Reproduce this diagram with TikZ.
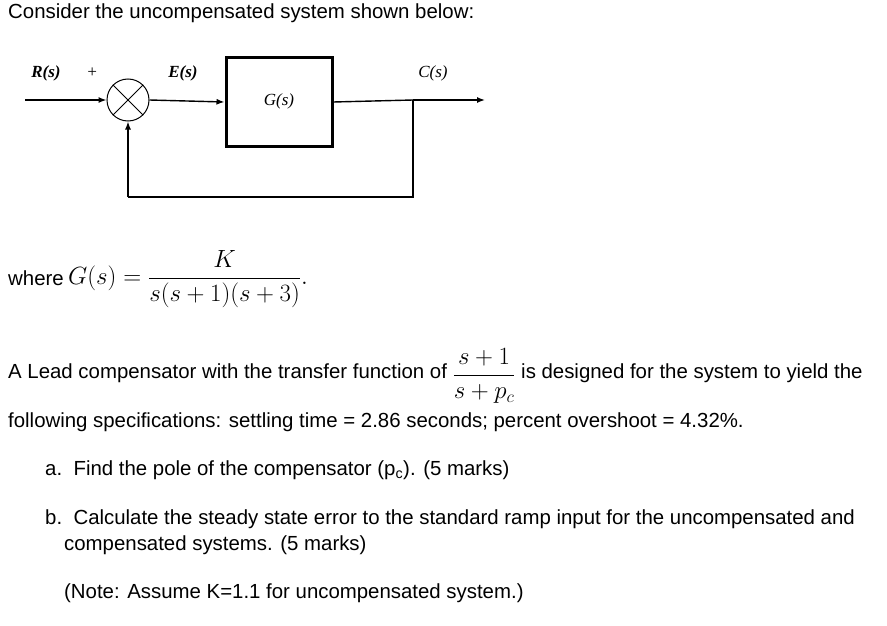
\documentclass[tikz,border=0pt]{standalone}
\usepackage{amsmath}
\usepackage{fontspec}
\setmainfont{Liberation Sans}
\newfontfamily\serifl{Liberation Serif}
\usetikzlibrary{arrows.meta}
\begin{document}
\begin{tikzpicture}[x=1pt,y=-1pt,
  txt/.style={anchor=west,inner sep=0pt,font=\fontsize{20.4}{24}\selectfont},
  lbl/.style={inner sep=0pt,font=\fontsize{17}{20}\selectfont\serifl\itshape},
  sig/.style={line width=1.4pt,-{Latex[length=8pt,width=6pt]}},
  ln/.style={line width=1.4pt}]
\useasboundingbox (0,0) rectangle (887,626);
\node[txt] (t1) at (8,13) {Consider the uncompensated system shown below:};
% block diagram
\coordinate (in) at (25,100);
\node[circle,draw,line width=1pt,minimum size=42pt,inner sep=0pt] (sum) at (128,100) {};
\draw[line width=0.8pt] (sum.north west) -- (sum.south east) (sum.north east) -- (sum.south west);
\node[draw,line width=3pt,minimum width=106pt,minimum height=88pt] (G) at (279,102) {};
\node[lbl] (Gl) at (279,101) {G(s)};
\coordinate (br) at (413,100);
\coordinate (out) at (485,100);
\coordinate (fb) at (413,197);
\coordinate (fb2) at (128,197);
\draw[sig] (in) -- (sum.west);
\draw[sig] (sum.east) -- (G.west);
\draw[ln] (G.east) -- (br);
\draw[sig] (br) -- (out);
\draw[ln] (br) -- (fb) -- (fb2);
\draw[sig] (fb2) -- (sum.south);
\node[lbl] (R) at (46,73) {\textbf{R(s)}};
\node[lbl] (plus) at (92,73) {+};
\node[lbl] (E) at (183,73) {\textbf{E(s)}};
\node[lbl] (C) at (433,73) {C(s)};
% G(s)
\node[txt] (where) at (8,278) {where};
\node[anchor=west,inner sep=0pt,font=\fontsize{34}{38}\selectfont] (Geq) at (68,279)
  {$G(s) = \dfrac{K}{s(s+1)(s+3)}.$};
\node[txt] (lead) at (8,376) {A Lead compensator with the transfer function of \raisebox{-0.3ex}{\fontsize{25}{28}\selectfont$\dfrac{s+1}{s+p_c}$} is designed for the system to yield the};
\node[txt] (spec) at (8,422) {following specifications: settling time = 2.86 seconds; percent overshoot = 4.32\%.};
\node[txt] (a) at (45,470) {a.\ \ Find the pole of the compensator (p\textsubscript{c}). (5 marks)};
\node[txt] (b) at (45,519) {b.\ \ Calculate the steady state error to the standard ramp input for the uncompensated and};
\node[txt] (b2) at (64,545) {compensated systems. (5 marks)};
\node[txt] (n) at (64,593) {(Note: Assume K=1.1 for uncompensated system.)};
\end{tikzpicture}
\end{document}
